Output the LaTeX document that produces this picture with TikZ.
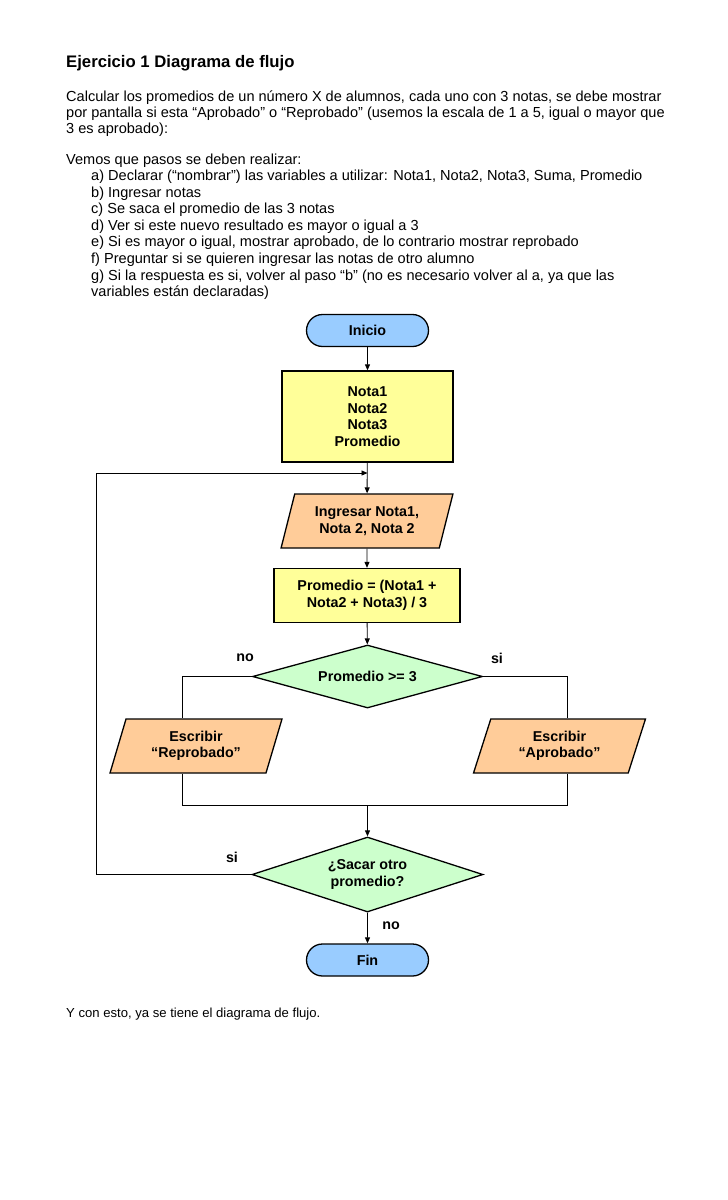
\documentclass[tikz,border=0pt]{standalone}
\usepackage{fontspec}
\setmainfont{Liberation Sans}
\usetikzlibrary{shapes.geometric,shapes.misc,arrows.meta}
\definecolor{cblue}{HTML}{99CCFF}
\definecolor{cyel}{HTML}{FFFF99}
\definecolor{corg}{HTML}{FFCC99}
\definecolor{cgrn}{HTML}{CCFFCC}
\tikzset{
  txt/.style={anchor=base west, inner sep=0pt, font=\fontsize{14.55}{16.5}\selectfont},
  dfont/.style={font=\fontsize{14.3}{16.5}\selectfont\bfseries, align=center},
  term/.style={rounded rectangle, draw, line width=1.3pt, fill=cblue, minimum width=122pt, minimum height=32pt, inner sep=0pt, dfont},
  proc/.style={rectangle, draw, line width=1.3pt, fill=cyel, inner sep=0pt, dfont},
  io/.style={trapezium, trapezium left angle=71, trapezium right angle=109, trapezium stretches=true, draw, line width=1.3pt, fill=corg, minimum width=172pt, minimum height=54pt, inner sep=0pt, dfont},
  dec/.style={diamond, aspect=3.6, draw, line width=1.3pt, fill=cgrn, inner sep=0pt, dfont},
  lbl/.style={inner sep=0pt, dfont},
  conn/.style={line width=0.9pt},
  arr/.style={conn, -{Triangle[length=6pt,width=5pt]}}
}
\begin{document}
\begin{tikzpicture}[x=1pt,y=-1pt]
\useasboundingbox (0,0) rectangle (728,1200);
% texts
\node[txt, font=\fontsize{16.7}{19}\selectfont\bfseries] (title) at (66,67) {Ejercicio 1 Diagrama de flujo};
\node[txt] (p1) at (66,101) {Calcular los promedios de un número X de alumnos, cada uno con 3 notas, se debe mostrar};
\node[txt] (p2) at (66,117) {por pantalla si esta “Aprobado” o “Reprobado” (usemos la escala de 1 a 5, igual o mayor que};
\node[txt] (p3) at (66,133) {3 es aprobado):};
\node[txt] (v0) at (66,164) {Vemos que pasos se deben realizar:};
\node[txt] (va) at (91,180.5) {a) Declarar (“nombrar\char"0022) las variables a utilizar: Nota1, Nota2, Nota3, Suma, Promedio};
\node[txt] (vb) at (91,197) {b) Ingresar notas};
\node[txt] (vc) at (91,213.5) {c) Se saca el promedio de las 3 notas};
\node[txt] (vd) at (91,230) {d) Ver si este nuevo resultado es mayor o igual a 3};
\node[txt] (ve) at (91,246.5) {e) Si es mayor o igual, mostrar aprobado, de lo contrario mostrar reprobado};
\node[txt] (vf) at (91,263) {f) Preguntar si se quieren ingresar las notas de otro alumno};
\node[txt] (vg) at (91,280) {g) Si la respuesta es si, volver al paso “b\char"0022{} (no es necesario volver al a, ya que las};
\node[txt] (vh) at (91,296.5) {variables están declaradas)};
\node[txt, font=\fontsize{13.1}{15}\selectfont] (fin0) at (66,1017) {Y con esto, ya se tiene el diagrama de flujo.};
% flowchart nodes
\node[term] (ini) at (367.5,330.5) {Inicio};
\node[proc, minimum width=171pt, minimum height=91pt] (nota) at (367.5,416.5) {Nota1\\Nota2\\Nota3\\Promedio};
\node[io] (ing) at (367,521) {Ingresar Nota1,\\Nota 2, Nota 2};
\node[proc, minimum width=186pt, minimum height=54pt] (prom) at (367,595.5) {Promedio = (Nota1 +\\Nota2 + Nota3) / 3};
\node[dec, minimum width=230pt, minimum height=63pt] (dec1) at (367.5,676.5) {Promedio >= 3};
\node[io] (rep) at (196,746) {Escribir\\“Reprobado”};
\node[io] (apr) at (559.5,746) {Escribir\\“Aprobado”};
\node[dec, minimum width=231pt, minimum height=75pt] (dec2) at (367.5,874.5) {¿Sacar otro\\promedio?};
\node[term] (fin) at (367.5,960) {Fin};
% labels
\node[lbl] (lno1) at (245,658) {no};
\node[lbl] (lsi1) at (497,658) {si};
\node[lbl] (lsi2) at (232,857) {si};
\node[lbl] (lno2) at (391,926) {no};
% helper coordinates
\coordinate (lx) at (182,805);
\coordinate (rx) at (567,805);
\coordinate (mg) at (367.5,805);
\coordinate (lc) at (96,473);
\coordinate (loopin) at (367.5,473);
% connectors
\draw[arr] (ini) -- (nota);
\draw[arr] (nota) -- (ing);
\draw[arr] (dec2.west) -| (lc) -- (loopin);
\draw[arr] (ing) -- (prom);
\draw[arr] (prom) -- (dec1);
\draw[conn] (dec1.west) -| (rep.north -| lx);
\draw[conn] (dec1.east) -| (apr.north -| rx);
\draw[conn] (rep.south -| lx) -- (lx) -- (rx) -- (apr.south -| rx);
\draw[arr] (mg) -- (dec2);
\draw[arr] (dec2) -- (fin);
\end{tikzpicture}
\end{document}
